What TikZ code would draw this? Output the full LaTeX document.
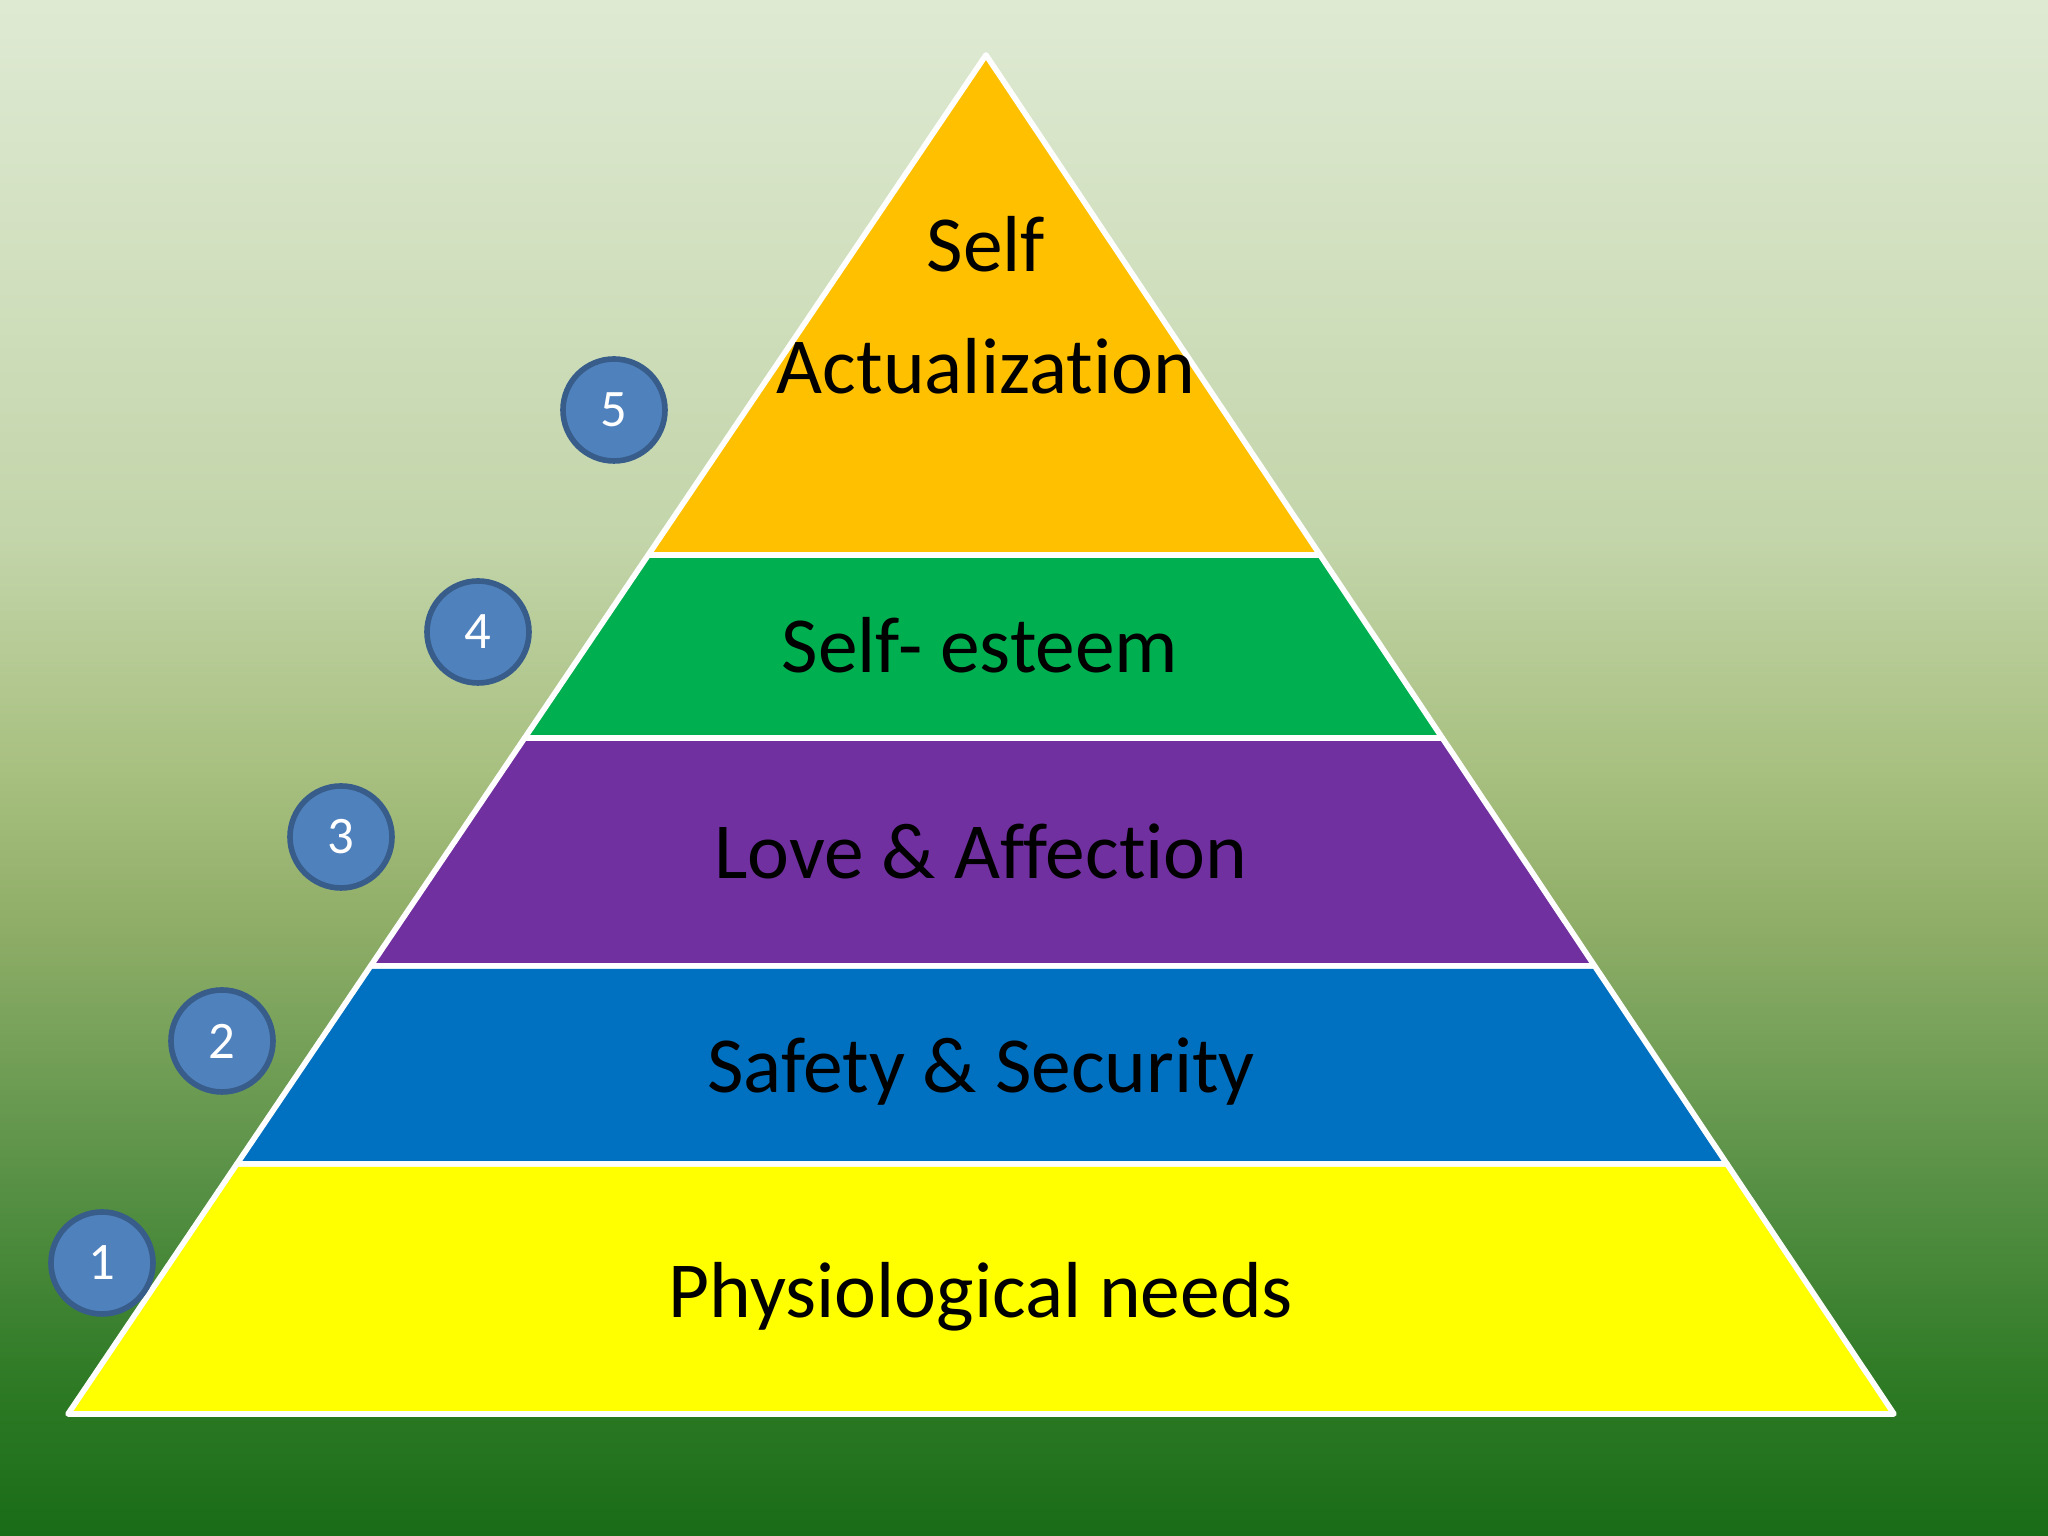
\documentclass[tikz,border=0pt]{standalone}
\usepackage{fontspec}
\setmainfont{Carlito}[Ligatures=NoCommon]
\usetikzlibrary{calc}

\definecolor{bgtop}{HTML}{DFEAD3}
\definecolor{bgupper}{HTML}{C3D5AA}
\definecolor{bgmid}{HTML}{A8C080}
\definecolor{bglowmid}{HTML}{90AE68}
\definecolor{bglow}{HTML}{5E944A}
\definecolor{bgdeep}{HTML}{2E7A25}
\definecolor{bgbot}{HTML}{1A6C17}
\definecolor{tierorange}{HTML}{FFC000}
\definecolor{tiergreen}{HTML}{00B050}
\definecolor{tierpurple}{HTML}{7030A0}
\definecolor{tierblue}{HTML}{0070C0}
\definecolor{tieryellow}{HTML}{FFFF00}
\definecolor{badgefill}{HTML}{4F81BD}
\definecolor{badgeline}{HTML}{385D8A}

\pgfdeclareverticalshading{meadow}{100bp}{color(0bp)=(bgbot); color(25bp)=(bgbot);
  color(30bp)=(bgdeep); color(37.5bp)=(bglow); color(45bp)=(bglowmid);
  color(50bp)=(bgmid); color(57.5bp)=(bgupper); color(75bp)=(bgtop); color(100bp)=(bgtop)}

\begin{document}
\begin{tikzpicture}[
  tier/.style={draw=white, line width=1.6pt, line join=round},
  lbl/.style={font=\fontsize{22.6}{27}\selectfont, text=black},
  badge/.style={circle, minimum size=1.02cm, inner sep=0pt, fill=badgefill,
    draw=badgeline, line width=1.6pt, text=white, font=\fontsize{15}{17}\selectfont}
]
  % BACKGROUND
  \shade[shading=meadow] (0,0) rectangle (20.48,15.36);
  \useasboundingbox (0,0) rectangle (20.48,15.36);

  \coordinate (bl) at (0.68,1.22);
  \coordinate (br) at (18.94,1.22);
  \coordinate (apex) at (9.86,14.81);

  % PYRAMID TIERS
  \foreach \lo/\hi/\col in {0/0.184/tieryellow, 0.184/0.3297/tierblue,
      0.3297/0.4974/tierpurple, 0.4974/0.6321/tiergreen} {
    \draw[tier, fill=\col] ($(bl)!\lo!(apex)$) -- ($(br)!\lo!(apex)$)
      -- ($(br)!\hi!(apex)$) -- ($(bl)!\hi!(apex)$) -- cycle;
  }
  \draw[tier, fill=tierorange] ($(bl)!0.6321!(apex)$) -- ($(br)!0.6321!(apex)$) -- (apex) -- cycle;

  % LABELS
  \node[lbl] (self) at (9.86,12.92) {Self};
  \node[lbl] (actual) at (9.86,11.70) {Actualization};
  \node[lbl] (esteem) at (9.80,8.91) {Self- esteem};
  \node[lbl] (love) at (9.81,6.85) {Love \& Affection};
  \node[lbl] (safety) at (9.81,4.64) {Safety \& Security};
  \node[lbl] (physio) at (9.81,2.39) {Physiological needs};

  % NUMBERS
  \node[badge] (n1) at (1.02,2.73) {1};
  \node[badge] (n2) at (2.22,4.95) {2};
  \node[badge] (n3) at (3.41,6.99) {3};
  \node[badge] (n4) at (4.78,9.04) {4};
  \node[badge] (n5) at (6.14,11.26) {5};
\end{tikzpicture}
\end{document}
